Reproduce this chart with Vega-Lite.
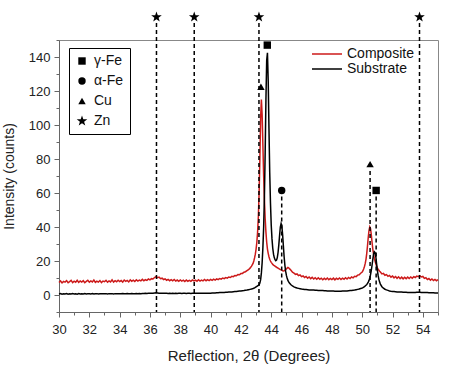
{
"$schema":"https://vega.github.io/schema/vega-lite/v6.json",
"width":379,"height":272,
"autosize":{"type":"none"},
"padding":{"left":59,"top":40,"right":36,"bottom":54},
"config":{"font":"Liberation Sans","view":{"stroke":"#888","strokeWidth":1},"axis":{"grid":false,"domainColor":"#666","tickColor":"#666","labelColor":"#222","titleColor":"#222","titleFontWeight":"normal","labelFontSize":13}},
"datasets":{
"xrd":[
{"x":30.0,"c":7.4,"s":0.6},{"x":30.1,"c":8.3,"s":0.8},{"x":30.2,"c":7.1,"s":0.5},{"x":30.3,"c":8.0,"s":0.7},{"x":30.4,"c":7.6,"s":0.6},{"x":30.5,"c":8.5,"s":0.8},{"x":30.6,"c":7.2,"s":0.5},{"x":30.7,"c":7.9,"s":0.7},{"x":30.8,"c":8.6,"s":0.6},{"x":30.9,"c":7.3,"s":0.8},
{"x":31.0,"c":8.1,"s":0.6},{"x":31.1,"c":7.5,"s":0.7},{"x":31.2,"c":8.7,"s":0.5},{"x":31.3,"c":7.4,"s":0.8},{"x":31.4,"c":8.2,"s":0.6},{"x":31.5,"c":7.6,"s":0.7},{"x":31.6,"c":8.4,"s":0.6},{"x":31.7,"c":7.2,"s":0.8},{"x":31.8,"c":8.0,"s":0.6},{"x":31.9,"c":8.6,"s":0.7},
{"x":32.0,"c":7.5,"s":0.7},{"x":32.1,"c":8.3,"s":0.6},{"x":32.2,"c":7.7,"s":0.8},{"x":32.3,"c":8.8,"s":0.6},{"x":32.4,"c":7.4,"s":0.7},{"x":32.5,"c":8.1,"s":0.8},{"x":32.6,"c":7.6,"s":0.6},{"x":32.7,"c":8.5,"s":0.7},{"x":32.8,"c":7.3,"s":0.8},{"x":32.9,"c":8.2,"s":0.7},
{"x":33.0,"c":7.8,"s":0.7},{"x":33.1,"c":8.6,"s":0.8},{"x":33.2,"c":7.5,"s":0.6},{"x":33.3,"c":8.3,"s":0.8},{"x":33.4,"c":7.7,"s":0.7},{"x":33.5,"c":8.9,"s":0.8},{"x":33.6,"c":7.6,"s":0.6},{"x":33.7,"c":8.4,"s":0.8},{"x":33.8,"c":7.8,"s":0.7},{"x":33.9,"c":8.7,"s":0.8},
{"x":34.0,"c":7.9,"s":0.8},{"x":34.1,"c":8.5,"s":0.7},{"x":34.2,"c":7.6,"s":0.9},{"x":34.3,"c":8.8,"s":0.7},{"x":34.4,"c":8.0,"s":0.8},{"x":34.5,"c":8.6,"s":0.9},{"x":34.6,"c":7.7,"s":0.7},{"x":34.7,"c":8.9,"s":0.8},{"x":34.8,"c":8.1,"s":0.9},{"x":34.9,"c":8.7,"s":0.8},
{"x":35.0,"c":8.0,"s":0.8},{"x":35.1,"c":9.0,"s":0.9},{"x":35.2,"c":8.2,"s":0.8},{"x":35.3,"c":8.8,"s":0.9},{"x":35.4,"c":8.3,"s":0.8},{"x":35.5,"c":9.2,"s":0.9},{"x":35.6,"c":8.4,"s":0.9},{"x":35.7,"c":9.0,"s":1.0},{"x":35.8,"c":8.6,"s":0.9},{"x":35.9,"c":9.4,"s":1.0},
{"x":36.0,"c":8.9,"s":1.0},{"x":36.1,"c":9.6,"s":1.1},{"x":36.2,"c":9.4,"s":1.1},{"x":36.3,"c":10.3,"s":1.2},{"x":36.4,"c":10.8,"s":1.3},{"x":36.5,"c":10.2,"s":1.2},{"x":36.6,"c":10.5,"s":1.1},{"x":36.7,"c":9.6,"s":1.1},{"x":36.8,"c":9.9,"s":1.0},{"x":36.9,"c":9.1,"s":1.0},
{"x":37.0,"c":9.5,"s":1.0},{"x":37.1,"c":8.7,"s":1.0},{"x":37.2,"c":9.2,"s":0.9},{"x":37.3,"c":8.4,"s":1.0},{"x":37.4,"c":9.0,"s":0.9},{"x":37.5,"c":8.3,"s":1.0},{"x":37.6,"c":9.1,"s":0.9},{"x":37.7,"c":8.2,"s":1.0},{"x":37.8,"c":8.8,"s":0.9},{"x":37.9,"c":8.1,"s":1.0},
{"x":38.0,"c":8.9,"s":1.0},{"x":38.1,"c":8.2,"s":0.9},{"x":38.2,"c":8.7,"s":1.0},{"x":38.3,"c":7.9,"s":1.0},{"x":38.4,"c":8.8,"s":0.9},{"x":38.5,"c":8.1,"s":1.0},{"x":38.6,"c":8.6,"s":1.0},{"x":38.7,"c":8.0,"s":0.9},{"x":38.8,"c":8.9,"s":1.0},{"x":38.9,"c":8.3,"s":1.0},
{"x":39.0,"c":8.7,"s":1.0},{"x":39.1,"c":8.1,"s":1.1},{"x":39.2,"c":9.0,"s":1.0},{"x":39.3,"c":8.2,"s":1.1},{"x":39.4,"c":8.8,"s":1.0},{"x":39.5,"c":8.3,"s":1.1},{"x":39.6,"c":9.1,"s":1.1},{"x":39.7,"c":8.4,"s":1.0},{"x":39.8,"c":9.0,"s":1.1},{"x":39.9,"c":8.5,"s":1.1},
{"x":40.0,"c":9.2,"s":1.1},{"x":40.1,"c":8.6,"s":1.2},{"x":40.2,"c":9.3,"s":1.2},{"x":40.3,"c":8.8,"s":1.2},{"x":40.4,"c":9.5,"s":1.3},{"x":40.5,"c":9.0,"s":1.3},{"x":40.6,"c":9.7,"s":1.4},{"x":40.7,"c":9.3,"s":1.4},{"x":40.8,"c":10.0,"s":1.5},{"x":40.9,"c":9.6,"s":1.5},
{"x":41.0,"c":10.2,"s":1.6},{"x":41.1,"c":9.9,"s":1.6},{"x":41.2,"c":10.6,"s":1.7},{"x":41.3,"c":10.3,"s":1.8},{"x":41.4,"c":11.0,"s":1.8},{"x":41.5,"c":10.8,"s":1.9},{"x":41.6,"c":11.5,"s":2.0},{"x":41.7,"c":11.3,"s":2.1},{"x":41.8,"c":12.0,"s":2.2},{"x":41.9,"c":11.9,"s":2.3},
{"x":42.0,"c":12.6,"s":2.4},{"x":42.1,"c":12.7,"s":2.5},{"x":42.2,"c":13.4,"s":2.6},{"x":42.3,"c":13.7,"s":2.8},{"x":42.4,"c":14.3,"s":2.9},{"x":42.5,"c":14.9,"s":3.1},{"x":42.6,"c":15.8,"s":3.3},{"x":42.7,"c":17.0,"s":3.5},{"x":42.8,"c":18.6,"s":3.8},
{"x":42.85,"c":20.0,"s":4.0},{"x":42.9,"c":21.8,"s":4.2},{"x":42.95,"c":24.0,"s":4.5},{"x":43.0,"c":27.0,"s":4.8},{"x":43.05,"c":31.0,"s":5.1},{"x":43.1,"c":37.0,"s":5.4},{"x":43.15,"c":46.0,"s":5.7},{"x":43.2,"c":60.0,"s":6.0},{"x":43.25,"c":80.0,"s":7.0},{"x":43.3,"c":104.0,"s":9.0},
{"x":43.35,"c":115.0,"s":13.0},{"x":43.4,"c":106.0,"s":19.0},{"x":43.45,"c":88.0,"s":28.0},{"x":43.5,"c":70.0,"s":40.0},{"x":43.55,"c":56.0,"s":58.0},{"x":43.6,"c":45.0,"s":84.0},{"x":43.65,"c":37.0,"s":115.0},{"x":43.7,"c":31.0,"s":138.0},{"x":43.75,"c":27.0,"s":142.5},{"x":43.8,"c":24.5,"s":126.0},
{"x":43.85,"c":22.5,"s":98.0},{"x":43.9,"c":21.0,"s":72.0},{"x":43.95,"c":20.0,"s":54.0},{"x":44.0,"c":19.2,"s":41.0},{"x":44.05,"c":18.6,"s":33.0},{"x":44.1,"c":18.0,"s":27.5},{"x":44.15,"c":17.6,"s":24.0},{"x":44.2,"c":17.3,"s":22.0},{"x":44.25,"c":17.0,"s":20.8},{"x":44.3,"c":16.6,"s":20.2},
{"x":44.35,"c":16.4,"s":20.5},{"x":44.4,"c":16.0,"s":22.0},{"x":44.45,"c":15.8,"s":25.0},{"x":44.5,"c":15.5,"s":29.5},{"x":44.55,"c":15.2,"s":35.0},{"x":44.6,"c":15.0,"s":40.0},{"x":44.65,"c":14.8,"s":42.0},{"x":44.7,"c":14.6,"s":40.5},{"x":44.75,"c":14.3,"s":35.5},{"x":44.8,"c":14.2,"s":29.0},
{"x":44.85,"c":14.3,"s":22.5},{"x":44.9,"c":14.6,"s":17.5},{"x":44.95,"c":15.0,"s":14.0},{"x":45.0,"c":15.4,"s":11.5},{"x":45.05,"c":15.8,"s":9.8},{"x":45.1,"c":16.2,"s":8.6},{"x":45.15,"c":16.0,"s":7.7},{"x":45.2,"c":15.5,"s":7.0},{"x":45.3,"c":14.6,"s":6.0},{"x":45.4,"c":13.4,"s":5.3},
{"x":45.5,"c":12.9,"s":4.8},{"x":45.6,"c":12.1,"s":4.4},{"x":45.7,"c":12.4,"s":4.1},{"x":45.8,"c":11.4,"s":3.9},{"x":45.9,"c":11.8,"s":3.7},{"x":46.0,"c":10.8,"s":3.5},{"x":46.1,"c":11.2,"s":3.4},{"x":46.2,"c":10.3,"s":3.3},{"x":46.3,"c":10.9,"s":3.2},{"x":46.4,"c":9.9,"s":3.1},
{"x":46.5,"c":10.6,"s":3.0},{"x":46.6,"c":9.6,"s":3.0},{"x":46.7,"c":10.4,"s":2.9},{"x":46.8,"c":9.4,"s":2.9},{"x":46.9,"c":10.2,"s":2.8},{"x":47.0,"c":9.3,"s":2.8},{"x":47.1,"c":10.1,"s":2.7},{"x":47.2,"c":9.2,"s":2.7},{"x":47.3,"c":9.9,"s":2.6},{"x":47.4,"c":9.0,"s":2.6},
{"x":47.5,"c":9.8,"s":2.5},{"x":47.6,"c":9.1,"s":2.5},{"x":47.7,"c":10.0,"s":2.4},{"x":47.8,"c":9.0,"s":2.4},{"x":47.9,"c":9.7,"s":2.3},{"x":48.0,"c":9.1,"s":2.3},{"x":48.1,"c":9.9,"s":2.3},{"x":48.2,"c":8.9,"s":2.2},{"x":48.3,"c":9.8,"s":2.2},{"x":48.4,"c":9.2,"s":2.2},
{"x":48.5,"c":10.0,"s":2.2},{"x":48.6,"c":9.1,"s":2.2},{"x":48.7,"c":9.9,"s":2.3},{"x":48.8,"c":9.3,"s":2.3},{"x":48.9,"c":10.2,"s":2.4},{"x":49.0,"c":9.4,"s":2.4},{"x":49.1,"c":10.3,"s":2.5},{"x":49.2,"c":9.7,"s":2.6},{"x":49.3,"c":10.6,"s":2.7},{"x":49.4,"c":10.1,"s":2.8},
{"x":49.5,"c":11.0,"s":2.9},{"x":49.6,"c":10.8,"s":3.1},{"x":49.7,"c":11.7,"s":3.3},{"x":49.8,"c":11.9,"s":3.5},{"x":49.9,"c":12.8,"s":3.8},{"x":50.0,"c":13.5,"s":4.1},{"x":50.05,"c":14.3,"s":4.3},{"x":50.1,"c":15.4,"s":4.6},{"x":50.15,"c":16.8,"s":4.9},{"x":50.2,"c":18.6,"s":5.3},
{"x":50.25,"c":21.0,"s":5.7},{"x":50.3,"c":24.5,"s":6.2},{"x":50.35,"c":29.0,"s":6.8},{"x":50.4,"c":34.0,"s":7.6},{"x":50.45,"c":38.0,"s":8.6},{"x":50.5,"c":40.0,"s":10.0},{"x":50.55,"c":39.0,"s":12.0},{"x":50.6,"c":35.5,"s":14.5},{"x":50.65,"c":31.0,"s":17.5},{"x":50.7,"c":27.0,"s":21.0},
{"x":50.75,"c":24.0,"s":24.0},{"x":50.8,"c":21.5,"s":25.5},{"x":50.85,"c":19.8,"s":25.0},{"x":50.9,"c":18.2,"s":22.5},{"x":50.95,"c":17.0,"s":18.5},{"x":51.0,"c":16.0,"s":14.5},{"x":51.05,"c":15.2,"s":11.5},{"x":51.1,"c":14.6,"s":9.2},{"x":51.15,"c":14.0,"s":7.6},{"x":51.2,"c":13.5,"s":6.4},
{"x":51.3,"c":12.4,"s":4.9},{"x":51.4,"c":12.7,"s":4.0},{"x":51.5,"c":11.6,"s":3.4},{"x":51.6,"c":12.0,"s":3.0},{"x":51.7,"c":11.0,"s":2.7},{"x":51.8,"c":11.5,"s":2.4},{"x":51.9,"c":10.5,"s":2.2},{"x":52.0,"c":11.2,"s":2.1},{"x":52.1,"c":10.1,"s":2.0},{"x":52.2,"c":10.9,"s":1.9},
{"x":52.3,"c":9.8,"s":1.8},{"x":52.4,"c":10.7,"s":1.8},{"x":52.5,"c":9.6,"s":1.7},{"x":52.6,"c":10.5,"s":1.7},{"x":52.7,"c":9.5,"s":1.6},{"x":52.8,"c":10.4,"s":1.6},{"x":52.9,"c":9.6,"s":1.6},{"x":53.0,"c":10.5,"s":1.5},{"x":53.1,"c":9.7,"s":1.5},{"x":53.2,"c":10.6,"s":1.5},
{"x":53.3,"c":9.9,"s":1.5},{"x":53.4,"c":10.8,"s":1.5},{"x":53.5,"c":10.3,"s":1.5},{"x":53.6,"c":11.1,"s":1.6},{"x":53.7,"c":10.8,"s":1.6},{"x":53.8,"c":11.4,"s":1.6},{"x":53.9,"c":10.6,"s":1.5},{"x":54.0,"c":10.9,"s":1.5},{"x":54.1,"c":9.8,"s":1.4},{"x":54.2,"c":10.2,"s":1.4},
{"x":54.3,"c":9.1,"s":1.4},{"x":54.4,"c":9.7,"s":1.3},{"x":54.5,"c":8.7,"s":1.3},{"x":54.6,"c":9.4,"s":1.3},{"x":54.7,"c":8.5,"s":1.3},{"x":54.8,"c":9.2,"s":1.2},{"x":54.9,"c":8.4,"s":1.2},{"x":55.0,"c":9.0,"s":1.2}
],
"rules":[{"x":36.43,"y":160},{"x":38.92,"y":160},{"x":43.19,"y":160},{"x":53.78,"y":160},{"x":44.69,"y":58},{"x":50.52,"y":73},{"x":50.92,"y":58}],
"marks":[{"phase":"Zn","x":36.43,"y":163.5},{"phase":"Zn","x":38.92,"y":163.5},{"phase":"Zn","x":43.19,"y":163.5},{"phase":"Zn","x":53.78,"y":163.5},{"phase":"γ-Fe","x":43.74,"y":147},{"phase":"γ-Fe","x":50.92,"y":61.5},{"phase":"α-Fe","x":44.69,"y":61.5},{"phase":"Cu","x":43.32,"y":122.5},{"phase":"Cu","x":50.52,"y":77}]
},
"encoding":{
"x":{"field":"x","type":"quantitative","scale":{"domain":[30,55],"nice":false,"zero":false},
"axis":{"title":"Reflection, 2θ (Degrees)","values":[30,31,32,33,34,35,36,37,38,39,40,41,42,43,44,45,46,47,48,49,50,51,52,53,54,55],"labelExpr":"datum.value % 2 == 0 ? datum.label : ''","labelOverlap":false,"labelFlush":false,"tickSize":{"condition":{"test":"datum.value % 2 == 0","value":5},"value":3},"labelPadding":6,"titleFontSize":15,"titlePadding":12}},
"y":{"field":"y","type":"quantitative","scale":{"domain":[-10,150],"nice":false,"zero":false},
"axis":{"title":"Intensity (counts)","values":[-10,0,10,20,30,40,50,60,70,80,90,100,110,120,130,140,150],"labelExpr":"datum.value % 20 == 0 && datum.value >= 0 ? datum.label : ''","labelOverlap":false,"labelFlush":false,"tickSize":{"condition":{"test":"datum.value % 20 == 0","value":5},"value":3},"labelPadding":4,"titleFontSize":14,"titlePadding":12}}
},
"layer":[
{"data":{"name":"xrd"},
"transform":[{"fold":["c","s"],"as":["k","y"]}],
"mark":{"type":"line","strokeWidth":1.5},
"encoding":{
"color":{"field":"k","type":"nominal","scale":{"domain":["c","s"],"range":["#cc1a1a","#000000"]},
"legend":{"orient":"none","legendX":261,"legendY":7,"title":null,"symbolType":"M-5,0H5","symbolSize":36,"symbolStrokeWidth":1.5,"labelFontSize":14,"labelColor":"#111","labelOffset":13,"rowPadding":1,"padding":0,"labelExpr":"datum.label == 'c' ? 'Composite' : 'Substrate'"}}
}},
{"data":{"name":"rules"},
"mark":{"type":"rule","strokeDash":[4,3],"strokeWidth":1.5,"color":"#000"},
"encoding":{"y2":{"datum":-10}}},
{"data":{"name":"marks"},
"mark":{"type":"point","filled":true,"opacity":1,"color":"#000"},
"encoding":{
"shape":{"field":"phase","type":"nominal","scale":{"domain":["γ-Fe","α-Fe","Cu","Zn"],"range":["square","circle","triangle-up","M0,-1.5L0.35,-0.49L1.43,-0.46L0.57,0.19L0.88,1.21L0,0.6L-0.88,1.21L-0.57,0.19L-1.43,-0.46L-0.35,-0.49Z"]},
"legend":{"orient":"none","legendX":10,"legendY":8,"title":null,"strokeColor":"#000","padding":6,"labelFontSize":14,"labelColor":"#111","symbolSize":55,"symbolFillColor":"#000","symbolStrokeWidth":0,"rowPadding":6,"labelOffset":5,"labelExpr":"datum.label + '   '"}},
"size":{"value":55}}}
]
}
